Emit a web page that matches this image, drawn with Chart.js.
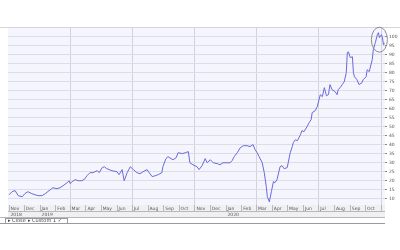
<!DOCTYPE html>
<html>
<head>
<meta charset="utf-8">
<style>
  html, body { margin: 0; padding: 0; background: #fff; }
  canvas { display: block; }
</style>
<script src="https://cdn.jsdelivr.net/npm/chart.js@4/dist/chart.umd.min.js"></script>
</head>
<body>
<canvas id="priceChart" width="400" height="250"></canvas>
<script>
// days since 1 Nov 2018
const days = [0, 6, 12, 18, 26, 31, 37, 45, 51, 57, 65, 71, 81, 86, 94, 100, 106, 114, 118, 120,
  124, 130, 136, 143, 149, 153, 159, 165, 173, 177, 183, 187, 192, 202, 212, 216, 222, 226, 232, 238,
  244, 251, 257, 263, 271, 275, 281, 287, 293, 300, 302, 308, 312, 318, 322, 328, 332, 340, 346, 352,
  355, 361, 369, 373, 379, 385, 389, 395, 401, 409, 414, 420, 428, 434, 438, 442, 448, 454, 460, 467,
  473, 479, 483, 487, 491, 497, 501, 505, 507, 511, 515, 519, 522, 526, 532, 536, 540, 546, 548, 552,
  556, 558, 562, 566, 572, 575, 579, 585, 589, 593, 595, 601, 605, 611, 615, 619, 623, 627, 630, 634,
  640, 644, 646, 650, 654, 658, 662, 664, 666, 670, 674, 676, 678, 683, 687, 693, 695, 701, 703, 707,
  713, 715, 719, 723, 725, 727, 731, 733, 735, 736];

const closeValues = [12.2, 13.9, 14.5, 11.7, 11.1, 12.8, 13.9, 12.8, 12.2, 11.7, 11.7, 12.8, 15.0, 16.1, 15.6, 16.1, 17.2, 18.9, 20.0, 18.4,
  19.5, 20.6, 20.0, 20.0, 21.1, 22.8, 24.5, 24.5, 25.6, 24.5, 27.3, 27.8, 26.7, 25.6, 25.0, 23.4, 26.2, 20.0, 24.5, 27.8,
  26.2, 24.5, 23.9, 25.0, 26.2, 24.5, 22.3, 22.8, 23.4, 24.5, 27.8, 32.3, 33.4, 32.3, 31.7, 32.8, 35.6, 35.1, 35.6, 36.2,
  30.0, 28.9, 27.8, 26.2, 28.4, 32.3, 30.0, 31.7, 30.0, 29.5, 28.9, 30.0, 30.0, 30.0, 31.2, 33.4, 35.6, 38.4, 39.5, 39.5,
  39.0, 40.1, 37.3, 35.6, 33.4, 30.0, 24.5, 16.7, 11.1, 8.3, 13.9, 19.5, 18.9, 20.6, 27.8, 28.4, 26.7, 27.3, 30.0, 35.6,
  39.0, 41.2, 42.8, 42.3, 45.6, 47.9, 47.3, 50.1, 52.3, 54.0, 57.9, 59.0, 61.2, 67.9, 66.8, 71.8, 67.3, 67.9, 73.5, 70.7,
  69.6, 67.9, 70.7, 71.8, 73.5, 75.1, 80.1, 91.3, 91.8, 88.5, 89.0, 80.1, 77.9, 76.2, 73.5, 74.6, 76.2, 77.9, 81.8, 80.7,
  87.4, 92.9, 96.8, 101.3, 102.4, 99.6, 101.3, 99.6, 95.7, 96.8];

const monthLabels = ['Nov', 'Dec', 'Jan', 'Feb', 'Mar', 'Apr', 'May', 'Jun', 'Jul', 'Aug', 'Sep', 'Oct'];
const yTicks = [10, 15, 20, 25, 30, 35, 40, 45, 50, 55, 60, 65, 70, 75, 80, 85, 90, 95, 100];

const DAY = 86400000;
const base = Date.UTC(2018, 10, 1);

// month starts from Nov 2018 to Nov 2020
const monthTicks = [];
for (let i = 0; i <= 24; i++) {
    const d = new Date(Date.UTC(2018, 10 + i, 1));
    monthTicks.push({
        value: Math.round((d.getTime() - base) / DAY),
        month: monthLabels[i % 12],
        year: (i === 0 || d.getUTCMonth() === 0) ? String(d.getUTCFullYear()) : '',
        quarter: i > 0 && i % 4 === 0
    });
}

const points = days.map((d, i) => ({ x: d, y: closeValues[i] }));

const framePlugin = {
    id: 'frame',
    beforeDraw(chart) {
        const { ctx, chartArea } = chart;
        ctx.save();
        ctx.fillStyle = '#f4f5fd';
        ctx.fillRect(chartArea.left, chartArea.top, chartArea.right - chartArea.left, chartArea.bottom - chartArea.top);
        ctx.fillStyle = '#f0f0f2';
        ctx.fillRect(chartArea.left, chartArea.bottom, chartArea.right - chartArea.left, 12);
        ctx.restore();
    },
    afterDraw(chart) {
        const { ctx, chartArea } = chart;
        ctx.save();
        ctx.strokeStyle = '#d6d6da';
        ctx.lineWidth = 1;
        ctx.beginPath();
        ctx.moveTo(0, chartArea.top - 0.5);
        ctx.lineTo(400, chartArea.top - 0.5);
        ctx.stroke();
        ctx.strokeStyle = '#b8b8bc';
        ctx.beginPath();
        ctx.moveTo(chartArea.left, chartArea.bottom + 6.5);
        ctx.lineTo(chartArea.right, chartArea.bottom + 6.5);
        ctx.moveTo(0, chartArea.bottom + 12.5);
        ctx.lineTo(chartArea.right, chartArea.bottom + 12.5);
        ctx.stroke();
        // toolbar row under the axis
        ctx.fillStyle = '#444';
        ctx.font = '5px "DejaVu Sans"';
        ctx.textBaseline = 'middle';
        const ty = chartArea.bottom + 16;
        ctx.fillText('▸ Close', chartArea.left, ty);
        ctx.fillText('▸ Custom', chartArea.left + 20, ty);
        ctx.fillText('1 ✓', chartArea.left + 45, ty);
        ctx.strokeStyle = '#9a9a9e';
        ctx.strokeRect(chartArea.left - 2.5, chartArea.bottom + 13.5, 62, 5);
        ctx.beginPath();
        ctx.moveTo(0, chartArea.bottom + 18.5);
        ctx.lineTo(chartArea.right, chartArea.bottom + 18.5);
        ctx.stroke();
        // ring round the high point
        const ds = chart.getDatasetMeta(0).data;
        let top = 0;
        closeValues.forEach((v, i) => { if (v > closeValues[top]) top = i; });
        const p = ds[top];
        ctx.strokeStyle = '#8a8a92';
        ctx.beginPath();
        ctx.ellipse(p.x + 1, p.y + 7, 8, 12.5, 0, 0, Math.PI * 2);
        ctx.stroke();
        ctx.restore();
    }
};

new Chart(document.getElementById('priceChart'), {
    type: 'line',
    data: {
        datasets: [{
            label: 'Close',
            data: points,
            borderColor: '#6a6adc',
            borderWidth: 1,
            pointRadius: 0,
            tension: 0
        }]
    },
    options: {
        responsive: false,
        animation: false,
        maintainAspectRatio: false,
        layout: { padding: { top: 28, left: 8, right: 0, bottom: 33 } },
        plugins: { legend: { display: false }, tooltip: { enabled: false } },
        scales: {
            x: {
                type: 'linear',
                min: -2,
                max: 738,
                afterBuildTicks: axis => { axis.ticks = monthTicks.map(t => ({ value: t.value })); },
                afterFit: axis => { axis.height = 12; },
                border: { display: false },
                grid: {
                    color: c => (monthTicks[c.index] && monthTicks[c.index].quarter) ? '#d2d3dc' : 'rgba(0,0,0,0)',
                    tickColor: '#b8b8bc',
                    tickLength: 6
                },
                ticks: {
                    autoSkip: false,
                    maxRotation: 0,
                    align: 'start',
                    padding: -5,
                    color: '#555',
                    font: { family: 'DejaVu Sans', size: 4.5, lineHeight: 1.3 },
                    callback: (v, i) => {
                        const t = monthTicks[i];
                        if (!t || t.value > 725) return '';
                        return t.year ? [' ' + t.month, ' ' + t.year] : ' ' + t.month;
                    }
                }
            },
            y: {
                position: 'right',
                min: 6.5,
                max: 105,
                afterBuildTicks: axis => { axis.ticks = yTicks.map(v => ({ value: v })); },
                afterFit: axis => { axis.width = 15; },
                border: { display: false },
                grid: { color: '#dcdde6', tickColor: '#888', tickLength: 2 },
                ticks: {
                    padding: 2,
                    color: '#555',
                    font: { family: 'DejaVu Sans', size: 4.5 }
                }
            }
        }
    },
    plugins: [framePlugin]
});
</script>
</body>
</html>
